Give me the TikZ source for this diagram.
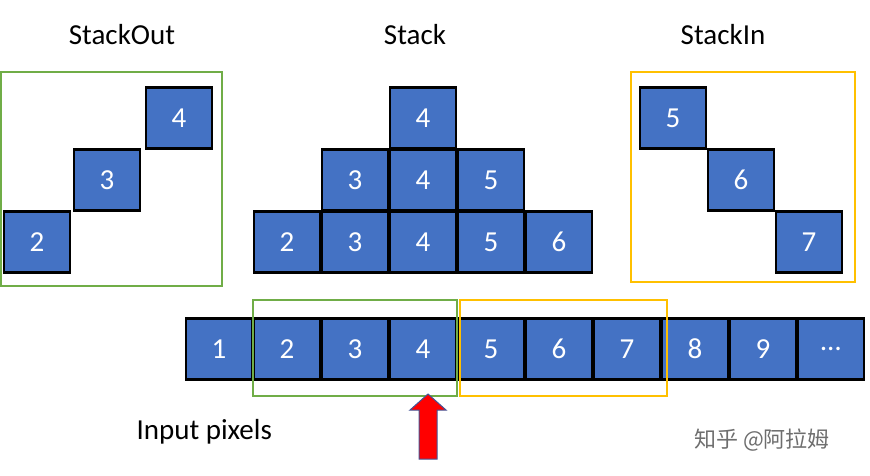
\documentclass[tikz,border=0pt]{standalone}
\usepackage{fontspec}
\setmainfont{Carlito}
\newfontfamily\cjk{Noto Sans CJK SC}
\begin{document}
\begin{tikzpicture}[x=1pt,y=-1pt,
  cell/.style={draw=black,line width=2.5pt,fill={rgb,255:red,68;green,114;blue,196},text=white,minimum width=66pt,minimum height=61pt,inner sep=0pt,font=\fontsize{29}{29}\selectfont},
  title/.style={font=\fontsize{29}{29}\selectfont},
  gframe/.style={draw={rgb,255:red,112;green,173;blue,71},line width=1.2pt},
  oframe/.style={draw={rgb,255:red,255;green,192;blue,0},line width=1.2pt}]
\useasboundingbox (0,0) rectangle (870,476);
% frames
\draw[gframe] (1,72) rectangle (222,286);
\draw[oframe] (631,72) rectangle (855,282);
% titles
\node[title] (t1) at (122,35) {StackOut};
\node[title] (t2) at (415,35) {Stack};
\node[title] (t3) at (723,35) {StackIn};
% input row
\foreach \i/\l in {1/1,2/2,3/3,4/4,5/5,6/6,7/7,8/8,9/9}
  \node[cell] (in\i) at ({185+34+(\i-1)*68},349) {\l};
\node[cell] (in10) at (831,349) {…};
\draw[gframe] (253,300) rectangle (457,396);
\draw[oframe] (460,300) rectangle (667,396);
% stack
\foreach \i/\l in {1/2,2/3,3/4,4/5,5/6}
  \node[cell] (s\i) at ({253+34+(\i-1)*68},242) {\l};
\foreach \i/\l in {1/3,2/4,3/5}
  \node[cell] (m\i) at ({321+34+(\i-1)*68},180) {\l};
\node[cell] (top) at (423,118) {4};
% stackout
\node[cell] (o2) at (37,242) {2};
\node[cell] (o3) at (107,180) {3};
\node[cell] (o4) at (179,118) {4};
% stackin
\node[cell] (i5) at (673,118) {5};
\node[cell] (i6) at (741,180) {6};
\node[cell] (i7) at (809,242) {7};
% labels
\node[title,anchor=west] (ip) at (133,432) {Input pixels};
\draw[fill=red,draw={rgb,255:red,68;green,84;blue,150},line width=1pt]
  (428,394) -- (446,410) -- (437,410) -- (437,459) -- (419,459) -- (419,410) -- (410,410) -- cycle;
\node[font=\cjk\fontsize{22}{22}\selectfont,text={rgb,255:red,110;green,110;blue,110}] (wm) at (762,440) {知乎 @阿拉姆};
\end{tikzpicture}
\end{document}
